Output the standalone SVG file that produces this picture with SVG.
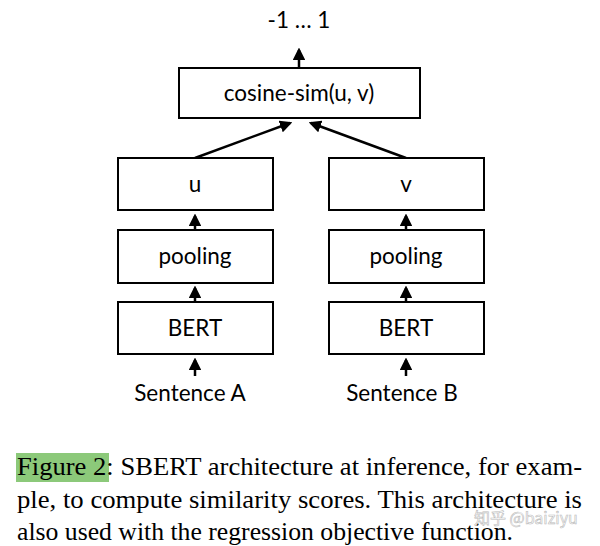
<svg xmlns="http://www.w3.org/2000/svg" width="600" height="546" viewBox="0 0 600 546">
<style>
.b{fill:#fff;stroke:#000;stroke-width:2}
.t{font-family:Lato,"Open Sans",sans-serif;font-size:22.5px;fill:#000;text-anchor:middle}
.c{font-family:"Liberation Serif",serif;font-size:26px;fill:#000}
.l{stroke:#000;stroke-width:2.5;fill:none;marker-end:url(#a)}
</style>
<defs><marker id="a" markerWidth="5" markerHeight="5" refX="4" refY="2.5" orient="auto" markerUnits="strokeWidth"><path d="M0,0L5,2.5L0,5z" fill="#000"/></marker></defs>
<rect width="600" height="546" fill="#fff"/>
<g id="connectors">
<line class="l" x1="299" y1="68" x2="299" y2="50"/>
<line class="l" x1="195" y1="158" x2="290" y2="123"/>
<line class="l" x1="406" y1="158" x2="311" y2="123"/>
<line class="l" x1="195" y1="230" x2="195" y2="216"/>
<line class="l" x1="406" y1="230" x2="406" y2="216"/>
<line class="l" x1="195" y1="302" x2="195" y2="288"/>
<line class="l" x1="406" y1="302" x2="406" y2="288"/>
<line class="l" x1="195" y1="376" x2="195" y2="360"/>
<line class="l" x1="406" y1="376" x2="406" y2="360"/>
</g>
<g id="out"><text class="t" x="299" y="28">-1 … 1</text></g>
<g id="cos"><rect class="b" x="179" y="68" width="241" height="50"/><text class="t" x="299" y="101">cosine-sim(u, v)</text></g>
<g id="u"><rect class="b" x="118" y="158" width="155" height="52"/><text class="t" x="195" y="192">u</text></g>
<g id="v"><rect class="b" x="329" y="158" width="155" height="52"/><text class="t" x="406" y="192">v</text></g>
<g id="poolA"><rect class="b" x="118" y="230" width="155" height="53"/><text class="t" x="195" y="264">pooling</text></g>
<g id="poolB"><rect class="b" x="329" y="230" width="155" height="53"/><text class="t" x="406" y="264">pooling</text></g>
<g id="bertA"><rect class="b" x="118" y="302" width="155" height="52"/><text class="t" x="195" y="336">BERT</text></g>
<g id="bertB"><rect class="b" x="329" y="302" width="155" height="52"/><text class="t" x="406" y="336">BERT</text></g>
<g id="sA"><text class="t" x="190" y="401">Sentence A</text></g>
<g id="sB"><text class="t" x="402" y="401">Sentence B</text></g>
<rect x="16" y="453" width="93" height="29" fill="#8cc97a"/>
<text class="c" x="17" y="475" textLength="565" lengthAdjust="spacingAndGlyphs">Figure 2:  SBERT architecture at inference, for exam-</text>
<text class="c" x="17" y="508" textLength="565" lengthAdjust="spacingAndGlyphs">ple, to compute similarity scores.  This architecture is</text>
<text class="c" x="17" y="540" textLength="496" lengthAdjust="spacingAndGlyphs">also used with the regression objective function.</text>
<text x="474" y="524" font-family="'Noto Sans CJK SC',sans-serif" font-size="16" fill="#fff" stroke="#bbb" stroke-width="0.6">知乎 @baiziyu</text>
</svg>
